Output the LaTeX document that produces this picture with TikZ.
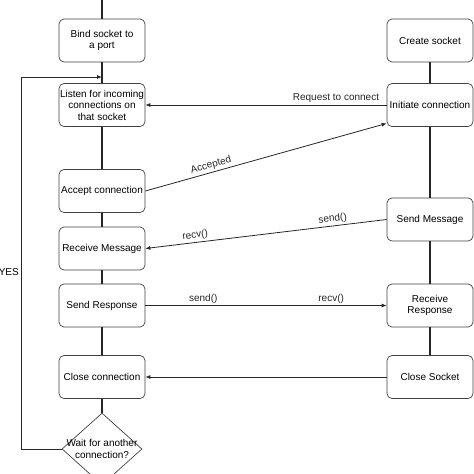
\documentclass[tikz,border=0pt]{standalone}
\usepackage{fontspec}
\setmainfont{Liberation Sans}
\usetikzlibrary{arrows.meta,shapes.geometric}
\begin{document}
\begin{tikzpicture}[x=1pt, y=-1pt,
        stepbox/.style={draw=black!75, line width=0.7pt, rounded corners=5pt, minimum width=86pt,
            minimum height=43pt, align=center, inner sep=1pt, font=\fontsize{10}{11.5}\selectfont},
        decision/.style={diamond, draw=black!75, line width=0.7pt, minimum width=80pt, minimum height=72pt,
            aspect=1.11, inner sep=-6pt, align=center, font=\fontsize{10}{11.5}\selectfont},
        flow/.style={line width=1.4pt, black!85},
        msg/.style={-{Latex[length=5pt,width=4pt]}, black!85, line width=0.8pt},
        lbl/.style={font=\fontsize{10}{11.5}\selectfont, inner sep=2pt}]
    \useasboundingbox (0,0) rectangle (474,474);

    % server side
    \node[stepbox] (bind) at (102, 40.5) {Bind socket to\\a port};
    \node[stepbox] (listen) at (102, 105) {Listen for incoming\\connections on\\that socket};
    \node[stepbox] (accept) at (102, 191) {Accept connection};
    \node[stepbox] (recvmsg) at (102, 248.5) {Receive Message};
    \node[stepbox] (sendresp) at (102, 305.5) {Send Response};
    \node[stepbox] (closeconn) at (102, 377) {Close connection};
    \node[decision] (wait) at (102, 449) {Wait for another\\connection?};

    % client side
    \node[stepbox] (create) at (430, 40.5) {Create socket};
    \node[stepbox] (initiate) at (430, 105) {Initiate connection};
    \node[stepbox] (sendmsg) at (430, 219.5) {Send Message};
    \node[stepbox] (recvresp) at (430, 305.5) {Receive\\Response};
    \node[stepbox] (closesock) at (430, 377) {Close Socket};

    \coordinate (top) at (102, 0);
    \coordinate (join) at (102, 77);

    % divider
    \draw[black!80, line width=0.8pt, double, double distance=2.2pt] (272.5, 0)--(272.5, 474);

    \draw[flow] (top)--(bind)--(listen)--(accept)--(recvmsg)--(sendresp)--(closeconn)--(wait);
    \draw[flow] (create)--(initiate)--(sendmsg)--(recvresp)--(closesock);

    \draw[msg] (wait.west)--++(-40, 0) |- (join);
    \node[lbl, anchor=east] at (21, 272) {YES};

    \draw[msg] (initiate.west)--(listen.east)
        node[lbl, above, pos=0.21] {Request to connect};
    \draw[msg] (accept.east)--(initiate.203)
        node[lbl, above, sloped, pos=0.28] {Accepted};
    \draw[msg] (sendmsg.west)--(recvmsg.east)
        node[lbl, above, sloped, pos=0.22] {send()}
        node[lbl, above, sloped, pos=0.79] {recv()};
    \draw[msg] (sendresp.east)--(recvresp.west)
        node[lbl, above, pos=0.24] {send()}
        node[lbl, above, pos=0.77] {recv()};
    \draw[msg] (closesock.west)--(closeconn.east);

\end{tikzpicture}
\end{document}
